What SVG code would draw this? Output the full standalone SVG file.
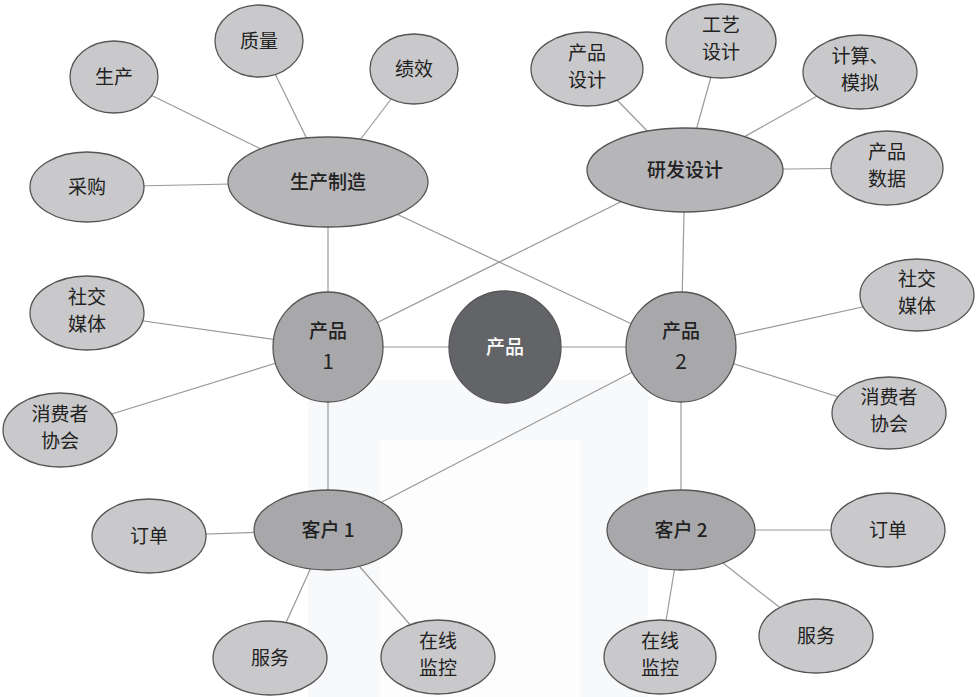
<svg xmlns="http://www.w3.org/2000/svg" width="978" height="697" viewBox="0 0 978 697">
<style>
text{font-family:"Noto Sans CJK SC","Liberation Sans",sans-serif;font-size:19px;fill:#222;text-anchor:middle}
.o{fill:#c9c9cb;stroke:#555;stroke-width:1.3}
.m{fill:#b6b6b9;stroke:#555;stroke-width:1.3}
.p{fill:#a8a8ab;stroke:#555;stroke-width:1.3}
.c{fill:#636468;stroke:#555;stroke-width:1.3}
.b{font-weight:500}
#edges line{stroke:#999;stroke-width:1.2}
</style>
<rect width="978" height="697" fill="#fff"/>
<g opacity="0.35">
<rect x="308" y="380" width="340" height="317" fill="#eceef4"/>
<rect x="380" y="440" width="200" height="257" fill="#fbfbfd"/>
</g>
<g id="edges">
<line x1="328" y1="182" x2="114" y2="77"/><line x1="328" y1="182" x2="259" y2="41"/>
<line x1="328" y1="182" x2="414" y2="69"/><line x1="328" y1="182" x2="87" y2="187"/>
<line x1="328" y1="182" x2="328" y2="347"/><line x1="328" y1="182" x2="681" y2="347"/>
<line x1="685" y1="170" x2="587" y2="69"/><line x1="685" y1="170" x2="721" y2="41"/>
<line x1="685" y1="170" x2="860" y2="72"/><line x1="685" y1="170" x2="887" y2="168"/>
<line x1="685" y1="170" x2="681" y2="347"/><line x1="685" y1="170" x2="328" y2="347"/>
<line x1="328" y1="347" x2="87" y2="313"/><line x1="328" y1="347" x2="60" y2="430"/>
<line x1="328" y1="347" x2="681" y2="347"/><line x1="328" y1="347" x2="328" y2="530"/>
<line x1="681" y1="347" x2="917" y2="295"/><line x1="681" y1="347" x2="889" y2="413"/>
<line x1="681" y1="347" x2="681" y2="530"/><line x1="681" y1="347" x2="328" y2="530"/>
<line x1="328" y1="530" x2="149" y2="536"/><line x1="328" y1="530" x2="270" y2="658"/>
<line x1="328" y1="530" x2="438" y2="657"/>
<line x1="681" y1="530" x2="888" y2="530"/><line x1="681" y1="530" x2="816" y2="636"/>
<line x1="681" y1="530" x2="660" y2="657"/>
</g>
<g id="n-shengchan"><ellipse class="o" cx="114" cy="77" rx="44" ry="36"/><text x="114" y="84">生产</text></g>
<g id="n-zhiliang"><ellipse class="o" cx="259" cy="41" rx="44" ry="36"/><text x="259" y="48">质量</text></g>
<g id="n-jixiao"><ellipse class="o" cx="414" cy="69" rx="44" ry="35"/><text x="414" y="76">绩效</text></g>
<g id="n-caigou"><ellipse class="o" cx="87" cy="187" rx="57" ry="35"/><text x="87" y="194">采购</text></g>
<g id="n-sczz"><ellipse class="m" cx="328" cy="182" rx="100" ry="45"/><text class="b" x="328" y="189">生产制造</text></g>
<g id="n-cpsj"><ellipse class="o" cx="587" cy="69" rx="56" ry="37"/><text x="587" y="60">产品</text><text x="587" y="87">设计</text></g>
<g id="n-gysj"><ellipse class="o" cx="721" cy="41" rx="55" ry="37"/><text x="721" y="32">工艺</text><text x="721" y="59">设计</text></g>
<g id="n-jsmn"><ellipse class="o" cx="860" cy="72" rx="57" ry="37"/><text x="860" y="63">计算、</text><text x="860" y="90">模拟</text></g>
<g id="n-yfsj"><ellipse class="m" cx="685" cy="170" rx="98" ry="42"/><text class="b" x="685" y="177">研发设计</text></g>
<g id="n-cpsjj"><ellipse class="o" cx="887" cy="168" rx="56" ry="37"/><text x="887" y="159">产品</text><text x="887" y="186">数据</text></g>
<g id="n-sjmt1"><ellipse class="o" cx="87" cy="313" rx="57" ry="37"/><text x="87" y="304">社交</text><text x="87" y="331">媒体</text></g>
<g id="n-p1"><circle class="p" cx="328" cy="347" r="55"/><text class="b" x="328" y="338">产品</text><text x="328" y="369" style="font-size:21px">1</text></g>
<g id="n-center"><circle class="c" cx="505" cy="347" r="56"/><text class="b" x="505" y="354" style="fill:#fff">产品</text></g>
<g id="n-p2"><circle class="p" cx="681" cy="347" r="55"/><text class="b" x="681" y="338">产品</text><text x="681" y="369" style="font-size:21px">2</text></g>
<g id="n-sjmt2"><ellipse class="o" cx="917" cy="295" rx="57" ry="36"/><text x="917" y="286">社交</text><text x="917" y="313">媒体</text></g>
<g id="n-xfz1"><ellipse class="o" cx="60" cy="430" rx="57" ry="37"/><text x="60" y="421">消费者</text><text x="60" y="448">协会</text></g>
<g id="n-xfz2"><ellipse class="o" cx="889" cy="413" rx="57" ry="36"/><text x="889" y="404">消费者</text><text x="889" y="431">协会</text></g>
<g id="n-dd1"><ellipse class="o" cx="149" cy="536" rx="57" ry="37"/><text x="149" y="543">订单</text></g>
<g id="n-kh1"><ellipse class="p" cx="328" cy="530" rx="74" ry="40"/><text class="b" x="328" y="537">客户 1</text></g>
<g id="n-kh2"><ellipse class="p" cx="681" cy="530" rx="74" ry="40"/><text class="b" x="681" y="537">客户 2</text></g>
<g id="n-dd2"><ellipse class="o" cx="888" cy="530" rx="57" ry="37"/><text x="888" y="537">订单</text></g>
<g id="n-fw1"><ellipse class="o" cx="270" cy="658" rx="57" ry="37"/><text x="270" y="665">服务</text></g>
<g id="n-zx1"><ellipse class="o" cx="438" cy="657" rx="57" ry="37"/><text x="438" y="648">在线</text><text x="438" y="675">监控</text></g>
<g id="n-zx2"><ellipse class="o" cx="660" cy="657" rx="56" ry="37"/><text x="660" y="648">在线</text><text x="660" y="675">监控</text></g>
<g id="n-fw2"><ellipse class="o" cx="816" cy="636" rx="57" ry="37"/><text x="816" y="643">服务</text></g>
</svg>
